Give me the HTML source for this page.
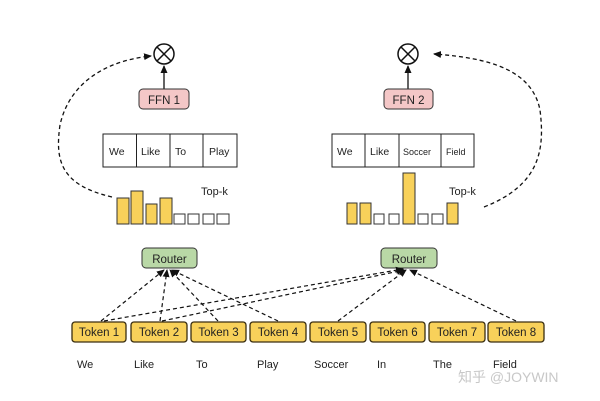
<!DOCTYPE html>
<html><head><meta charset="utf-8"><style>
html,body{margin:0;padding:0;background:#fff;}
svg{display:block;}
text{font-family:"Liberation Sans",Arial,sans-serif;fill:#222;}
</style></head><body>
<svg width="600" height="401" viewBox="0 0 600 401" xmlns="http://www.w3.org/2000/svg">
<defs>
<marker id="ah" markerWidth="8" markerHeight="8" refX="7" refY="4" orient="auto" markerUnits="userSpaceOnUse">
<path d="M0,0.5 L8,4 L0,7.5 Z" fill="#111"/>
</marker>
</defs>
<!-- circles -->
<g stroke="#111" stroke-width="1.5" fill="#fff">
<circle cx="164" cy="54" r="10"/>
<line x1="157" y1="47" x2="171" y2="61"/><line x1="171" y1="47" x2="157" y2="61"/>
<circle cx="408" cy="54" r="10"/>
<line x1="401" y1="47" x2="415" y2="61"/><line x1="415" y1="47" x2="401" y2="61"/>
</g>
<line x1="164" y1="89" x2="164" y2="66" stroke="#111" stroke-width="1.3" marker-end="url(#ah)"/>
<line x1="408" y1="89" x2="408" y2="66" stroke="#111" stroke-width="1.3" marker-end="url(#ah)"/>
<!-- FFN -->
<rect x="139" y="89" width="50" height="20" rx="4" fill="#f4c7c7" stroke="#333" stroke-width="1"/>
<text x="164" y="104" font-size="11.5" text-anchor="middle">FFN 1</text>
<rect x="384" y="89" width="49" height="20" rx="4" fill="#f4c7c7" stroke="#333" stroke-width="1"/>
<text x="408.5" y="104" font-size="11.5" text-anchor="middle">FFN 2</text>
<!-- token boxes top -->
<g fill="#fff" stroke="#222" stroke-width="1">
<rect x="103" y="134" width="134" height="33"/>
<line x1="136.5" y1="134" x2="136.5" y2="167"/><line x1="170" y1="134" x2="170" y2="167"/><line x1="203" y1="134" x2="203" y2="167"/>
<rect x="332" y="134" width="142" height="33"/>
<line x1="365" y1="134" x2="365" y2="167"/><line x1="399" y1="134" x2="399" y2="167"/><line x1="441" y1="134" x2="441" y2="167"/>
</g>
<g font-size="10.5">
<text x="109" y="155">We</text><text x="141" y="155">Like</text><text x="175" y="155">To</text><text x="209" y="155">Play</text>
<text x="337" y="155">We</text><text x="370" y="155">Like</text><text x="403" y="155" font-size="9">Soccer</text><text x="446" y="155" font-size="9">Field</text>
</g>
<text x="201" y="195" font-size="11">Top-k</text>
<text x="449" y="195" font-size="11">Top-k</text>
<!-- bars -->
<g stroke="#333" stroke-width="1">
<g fill="#f8d15a">
<rect x="117" y="198" width="12" height="26"/><rect x="131" y="191" width="12" height="33"/>
<rect x="146" y="204" width="11" height="20"/><rect x="160" y="198" width="12" height="26"/>
<rect x="347" y="203" width="10" height="21"/><rect x="360" y="203" width="11" height="21"/>
<rect x="403" y="173" width="12" height="51"/><rect x="447" y="203" width="11" height="21"/>
</g>
<g fill="#fff">
<rect x="174" y="214" width="11" height="10"/><rect x="188" y="214" width="11" height="10"/>
<rect x="203" y="214" width="11" height="10"/><rect x="217" y="214" width="12" height="10"/>
<rect x="374" y="214" width="10" height="10"/><rect x="389" y="214" width="10" height="10"/>
<rect x="418" y="214" width="10" height="10"/><rect x="432" y="214" width="11" height="10"/>
</g>
</g>
<!-- curves -->
<g fill="none" stroke="#111" stroke-width="1.3" stroke-dasharray="4,3">
<path d="M112,197 C60,185 55,160 60,125 C70,80 110,60 151,56" marker-end="url(#ah)"/>
<path d="M484,207 C540,185 545,150 540,110 C532,70 490,58 434,54" marker-end="url(#ah)"/>
</g>
<!-- routers -->
<rect x="142" y="248" width="55" height="20" rx="4" fill="#b9d8a6" stroke="#333" stroke-width="1"/>
<text x="169.5" y="263" font-size="11.5" text-anchor="middle">Router</text>
<rect x="381" y="248" width="56" height="20" rx="4" fill="#b9d8a6" stroke="#333" stroke-width="1"/>
<text x="409" y="263" font-size="11.5" text-anchor="middle">Router</text>
<!-- arrows -->
<g fill="none" stroke="#111" stroke-width="1.2" stroke-dasharray="4,3">
<line x1="101" y1="321" x2="164" y2="270" marker-end="url(#ah)"/>
<line x1="160" y1="321" x2="167" y2="270" marker-end="url(#ah)"/>
<line x1="218" y1="321" x2="170" y2="270" marker-end="url(#ah)"/>
<line x1="278" y1="321" x2="172" y2="270" marker-end="url(#ah)"/>
<line x1="104" y1="321" x2="403" y2="269" marker-end="url(#ah)"/>
<line x1="162" y1="321" x2="404" y2="270" marker-end="url(#ah)"/>
<line x1="338" y1="321" x2="406" y2="270" marker-end="url(#ah)"/>
<line x1="516" y1="321" x2="410" y2="270" marker-end="url(#ah)"/>
</g>
<!-- tokens -->
<g fill="#f8d15a" stroke="#3a2e10" stroke-width="1.3">
<rect x="72" y="322" width="54" height="20" rx="3"/><rect x="131" y="322" width="56" height="20" rx="3"/>
<rect x="191" y="322" width="55" height="20" rx="3"/><rect x="250" y="322" width="56" height="20" rx="3"/>
<rect x="310" y="322" width="56" height="20" rx="3"/><rect x="370" y="322" width="55" height="20" rx="3"/>
<rect x="429" y="322" width="56" height="20" rx="3"/><rect x="488" y="322" width="56" height="20" rx="3"/>
</g>
<g font-size="11.5" text-anchor="middle">
<text x="99" y="336">Token 1</text><text x="159" y="336">Token 2</text><text x="218.5" y="336">Token 3</text><text x="278" y="336">Token 4</text>
<text x="338" y="336">Token 5</text><text x="397.5" y="336">Token 6</text><text x="457" y="336">Token 7</text><text x="516" y="336">Token 8</text>
</g>
<g font-size="11">
<text x="77" y="368">We</text><text x="134" y="368">Like</text><text x="196" y="368">To</text><text x="257" y="368">Play</text>
<text x="314" y="368">Soccer</text><text x="377" y="368">In</text><text x="433" y="368">The</text><text x="493" y="368">Field</text>
</g>
<text x="458" y="382" font-size="14" style="fill:#c8c8c8;font-family:'Liberation Sans','Noto Sans CJK SC',sans-serif;">知乎 @JOYWIN</text>
</svg>
</body></html>
